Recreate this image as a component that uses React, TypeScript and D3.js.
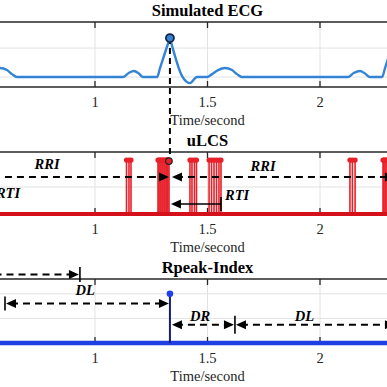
import React from 'react';
import * as d3 from 'd3';

// x axis ticks (seconds)
const xTicks = [1, 1.5, 2];

// simulated ECG samples
const ecgTime = [0.5, 0.52, 0.547, 0.578, 0.609, 0.631, 0.653,
  1.124, 1.15, 1.173, 1.195, 1.213,
  1.276, 1.289, 1.324, 1.333, 1.341, 1.387, 1.422, 1.453,
  1.498, 1.52, 1.547, 1.578, 1.609, 1.631, 1.653,
  2.124, 2.15, 2.178, 2.2, 2.222,
  2.276, 2.289, 2.324, 2.333, 2.341, 2.387, 2.422, 2.453, 2.5];
const ecgValue = [0, 0.10, 0.24, 0.31, 0.24, 0.10, 0,
  0, 0.14, 0.21, 0.12, 0,
  0, 0.31, 1.14, 1.345, 1.12, 0.03, -0.21, 0,
  0, 0.10, 0.24, 0.31, 0.24, 0.10, 0,
  0, 0.14, 0.21, 0.12, 0,
  0, 0.31, 1.14, 1.345, 1.12, 0.03, -0.21, 0, 0];

// uLCS events (seconds)
const ulcsTimes = [1.140, 1.151, 1.160,
  1.280, 1.284, 1.289, 1.293, 1.298, 1.302, 1.307, 1.311, 1.316, 1.320, 1.324, 1.329,
  1.422, 1.431, 1.442, 1.451,
  1.507, 1.518, 1.529, 1.540, 1.551, 1.560,
  2.133, 2.144, 2.156,
  2.280, 2.284, 2.289, 2.293, 2.298, 2.302, 2.307, 2.311, 2.316, 2.320, 2.324, 2.329];

// R peaks (seconds)
const rPeakTimes = [1.333, 2.333];
const rPeakAmp = 1.345;

const FONT = '"Liberation Serif", "Times New Roman", serif';

function Head({ x, y, dir }: { x: number; y: number; dir: number }) {
  return <polygon points={`${x},${y} ${x - dir * 10},${y - 4.5} ${x - dir * 10},${y + 4.5}`} fill="#000" />;
}

function Bar({ x, y, h }: { x: number; y: number; h: number }) {
  return <line x1={x} x2={x} y1={y - h} y2={y + h} stroke="#000" strokeWidth={1.6} />;
}

function Dash({ x1, x2, y }: { x1: number; x2: number; y: number }) {
  return <line x1={x1} x2={x2} y1={y} y2={y} stroke="#000" strokeWidth={2} strokeDasharray="7,5" />;
}

function Lbl({ x, y, t, anchor = 'middle' }: { x: number; y: number; t: string; anchor?: string }) {
  return (
    <text x={x} y={y} textAnchor={anchor} fontFamily={FONT} fontStyle="italic" fontWeight="bold" fontSize={14.5}>
      {t}
    </text>
  );
}

export default function App() {
  const x = d3.scaleLinear().domain([0.5, 2.5]).range([-17.5, 432.5]);
  const yE = d3.scaleLinear().domain([-0.345, 1.9]).range([87, 22]);
  const yM = d3.scaleLinear().domain([0, 1.15]).range([214, 152]);
  const yB = d3.scaleLinear().domain([0, 1.3]).range([343, 279]);

  const panels = [
    { title: 'Simulated ECG', y: yE, grid: [0, 1] },
    { title: 'uLCS', y: yM, grid: [0.5] },
    { title: 'Rpeak-Index', y: yB, grid: [0.5, 1] },
  ];

  const ecgLine = d3.line<number>()
    .x((_, i) => x(ecgTime[i]))
    .y(d => yE(d))
    .curve(d3.curveMonotoneX)(ecgValue);

  const x0 = x(0.5), x1 = x(2.5);
  const rx = x(rPeakTimes[0]);

  return (
    <svg width={387} height={387} style={{ position: 'absolute', left: 0, top: 0, background: '#fff' }}>
      {panels.map((p, k) => {
        const [bot, top] = p.y.range();
        return (
          <g key={k}>
            {xTicks.map(t => (
              <line key={'vg' + t} x1={x(t)} x2={x(t)} y1={top} y2={bot} stroke="#e2e2e2" strokeWidth={1} />
            ))}
            {p.grid.map(g => (
              <line key={'hg' + g} x1={x0} x2={x1} y1={p.y(g)} y2={p.y(g)} stroke="#e2e2e2" strokeWidth={1} />
            ))}
            <line x1={x0} x2={x1} y1={top} y2={top} stroke="#262626" strokeWidth={1.3} />
            <line x1={x0} x2={x1} y1={bot} y2={bot} stroke="#262626" strokeWidth={1.3} />
            {xTicks.map(t => (
              <g key={'tk' + t}>
                <line x1={x(t)} x2={x(t)} y1={top} y2={top + 6} stroke="#262626" strokeWidth={1.3} />
                <line x1={x(t)} x2={x(t)} y1={bot} y2={bot - 6} stroke="#262626" strokeWidth={1.3} />
                <text x={x(t)} y={bot + 20} textAnchor="middle" fontFamily={FONT} fontSize={14.5} fill="#262626">
                  {d3.format('~g')(t)}
                </text>
              </g>
            ))}
            <text x={x(1.5)} y={bot + 38} textAnchor="middle" fontFamily={FONT} fontSize={14.5} fill="#262626">
              Time/second
            </text>
            <text x={x(1.5)} y={top - 6} textAnchor="middle" fontFamily={FONT} fontWeight="bold" fontSize={16.5}>
              {p.title}
            </text>
          </g>
        );
      })}

      {/* ECG */}
      <path d={ecgLine || ''} fill="none" stroke="#3484d6" strokeWidth={2.4} strokeLinejoin="round" />

      {/* uLCS stems */}
      {ulcsTimes.map((t, i) => (
        <line key={'s' + i} x1={x(t)} x2={x(t)} y1={yM(0)} y2={yM(1)} stroke="#e8202a" strokeWidth={1.6} />
      ))}
      {ulcsTimes.map((t, i) => (
        <circle key={'c' + i} cx={x(t)} cy={yM(1)} r={2.6} fill="#e8202a" />
      ))}
      <line x1={x0} x2={x1} y1={yM(0)} y2={yM(0)} stroke="#d4111b" strokeWidth={3.8} />

      {/* Rpeak index */}
      <line x1={x0} x2={x1} y1={yB(0)} y2={yB(0)} stroke="#1e3fe4" strokeWidth={4.5} />
      {rPeakTimes.map(t => (
        <g key={'rp' + t}>
          <line x1={x(t)} x2={x(t)} y1={yB(0)} y2={yB(1)} stroke="#141f6e" strokeWidth={2} />
          <circle cx={x(t)} cy={yB(1)} r={3.3} fill="#1f3ff0" />
        </g>
      ))}

      {/* link from ECG R peak to uLCS */}
      <line x1={rx} x2={rx} y1={yE(rPeakAmp)} y2={yM(1) - 3} stroke="#000" strokeWidth={2} strokeDasharray="6,4" />
      <circle cx={rx} cy={yE(rPeakAmp)} r={4} fill="#3484d6" stroke="#16264a" strokeWidth={1.8} />
      <circle cx={rx - 1} cy={yM(1) + 1} r={3.3} fill="#e8202a" stroke="#222" strokeWidth={1.2} />

      {/* RRI arrows */}
      <Dash x1={x(0.333)} x2={rx - 6} y={yM(0.685)} />
      <Head x={rx - 1} y={yM(0.685)} dir={1} />
      <Dash x1={rx + 6} x2={x(2.333) - 6} y={yM(0.685)} />
      <Head x={rx + 2} y={yM(0.685)} dir={-1} />
      <Head x={x(2.333)} y={yM(0.685)} dir={1} />
      <Lbl x={x(0.787)} y={yM(0.83)} t="RRI" />
      <Lbl x={x(1.747)} y={yM(0.8)} t="RRI" />

      {/* RTI arrow */}
      <line x1={rx + 4} x2={x(1.56)} y1={yM(0.185)} y2={yM(0.185)} stroke="#000" strokeWidth={1.6} />
      <Head x={rx + 1} y={yM(0.185)} dir={-1} />
      <Bar x={x(1.56)} y={yM(0.185)} h={7} />
      <Lbl x={x(1.578)} y={yM(0.26)} t="RTI" anchor="start" />
      <Lbl x={x(0.667)} y={yM(0.296)} t="RTI" anchor="end" />

      {/* DL / DR arrows */}
      <Dash x1={x0} x2={x(0.933) - 6} y={yB(1.39)} />
      <Head x={x(0.933) - 1} y={yB(1.39)} dir={1} />
      <Bar x={x(0.933)} y={yB(1.39)} h={7.5} />
      <Lbl x={x(0.956)} y={yB(0.98)} t="DL" />

      <Bar x={x(0.6)} y={yB(0.8)} h={7} />
      <Head x={x(0.6) + 1} y={yB(0.8)} dir={-1} />
      <Dash x1={x(0.6) + 6} x2={rx - 6} y={yB(0.8)} />
      <Head x={rx - 1} y={yB(0.8)} dir={1} />

      <Head x={rx + 2} y={yB(0.37)} dir={-1} />
      <Dash x1={rx + 6} x2={x(1.622) - 6} y={yB(0.37)} />
      <Head x={x(1.622) - 1} y={yB(0.37)} dir={1} />
      <Bar x={x(1.622)} y={yB(0.37)} h={9} />
      <Head x={x(1.622) + 1} y={yB(0.37)} dir={-1} />
      <Dash x1={x(1.622) + 6} x2={x(2.333) - 6} y={yB(0.37)} />
      <Head x={x(2.333)} y={yB(0.37)} dir={1} />
      <Lbl x={x(1.467)} y={yB(0.45)} t="DR" />
      <Lbl x={x(1.931)} y={yB(0.45)} t="DL" />
    </svg>
  );
}
